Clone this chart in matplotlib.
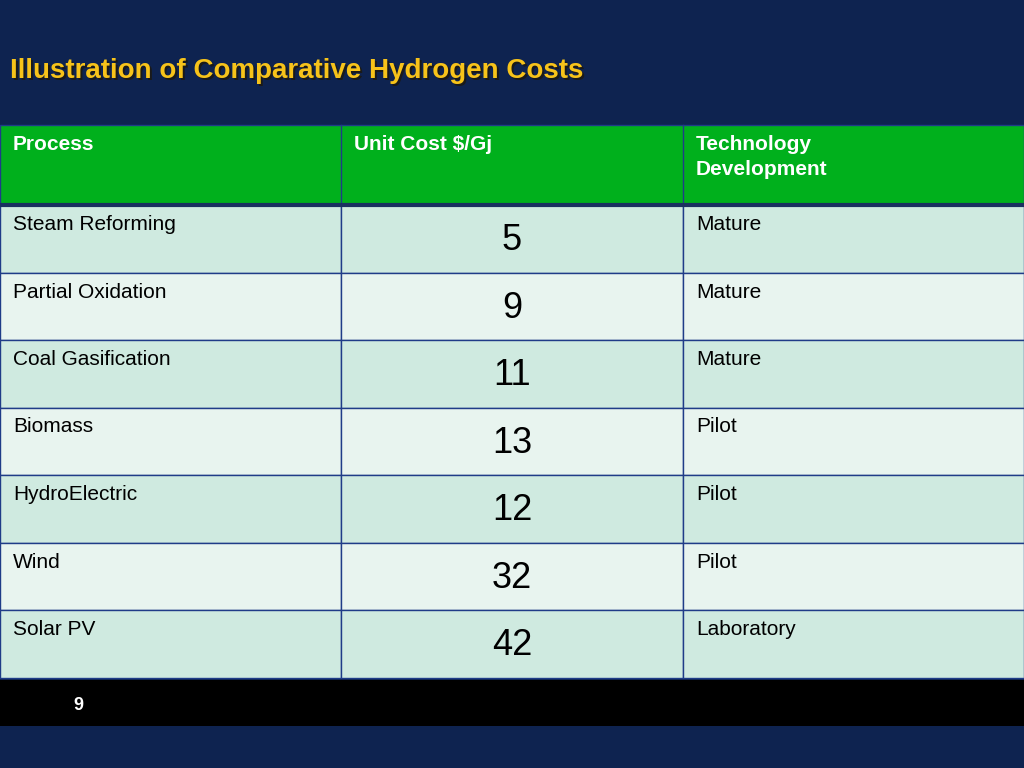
import matplotlib
matplotlib.use("Agg")
import matplotlib.pyplot as plt
from matplotlib.patches import Rectangle

plt.rcParams["font.family"] = ["Liberation Sans", "Arial", "DejaVu Sans"]

title = "Illustration of Comparative Hydrogen Costs"
headers = ["Process", "Unit Cost $/Gj", "Technology\nDevelopment"]
processes = ["Steam Reforming", "Partial Oxidation", "Coal Gasification", "Biomass",
             "HydroElectric", "Wind", "Solar PV"]
costs = [5, 9, 11, 13, 12, 32, 42]
maturity = ["Mature", "Mature", "Mature", "Pilot", "Pilot", "Pilot", "Laboratory"]
page = "9"

fig = plt.figure(figsize=(10.24, 7.68), dpi=100)
fig.patch.set_facecolor("#0e2350")
ax = fig.add_axes([0, 0, 1, 1])
ax.set_xlim(0, 1024); ax.set_ylim(768, 0); ax.axis("off")

ax.text(12, 73, title, color="#1a1a1a", fontsize=20, fontweight="bold", va="center")
ax.text(10, 71, title, color="#f7c31a", fontsize=20, fontweight="bold", va="center")

cols = [0, 341, 683, 1024]
top, hh, rh = 125, 80, 67.5
border = "#1f3c88"
ax.add_patch(Rectangle((0, top), 1024, hh, facecolor="#00b01c", edgecolor=border, lw=1))
for c in range(3):
    ax.text(cols[c] + 13, top + 10, headers[c], color="white", fontsize=15, fontweight="bold",
            va="top", linespacing=1.4)
for c in cols[1:3]:
    ax.plot([c, c], [top, top + hh], color=border, lw=1)
ax.plot([0, 1024], [top + hh, top + hh], color="#1a3060", lw=3)

for i, (p, v, m) in enumerate(zip(processes, costs, maturity)):
    y = top + hh + i * rh
    fc = "#cfeae0" if i % 2 == 0 else "#e8f4ef"
    for c in range(3):
        ax.add_patch(Rectangle((cols[c], y), cols[c + 1] - cols[c], rh, facecolor=fc, edgecolor=border, lw=1))
    ax.text(13, y + 10, p, fontsize=15, va="top", color="black")
    ax.text(512, y + rh / 2 + 2, str(v), fontsize=26, ha="center", va="center", color="black")
    ax.text(696, y + 10, m, fontsize=15, va="top", color="black")

ax.add_patch(Rectangle((0, 680), 1024, 46, facecolor="black", edgecolor="none"))
ax.text(78, 705, page, color="white", fontsize=13, fontweight="bold", ha="center", va="center")

fig.savefig("out.png", dpi=100, facecolor=fig.get_facecolor())
